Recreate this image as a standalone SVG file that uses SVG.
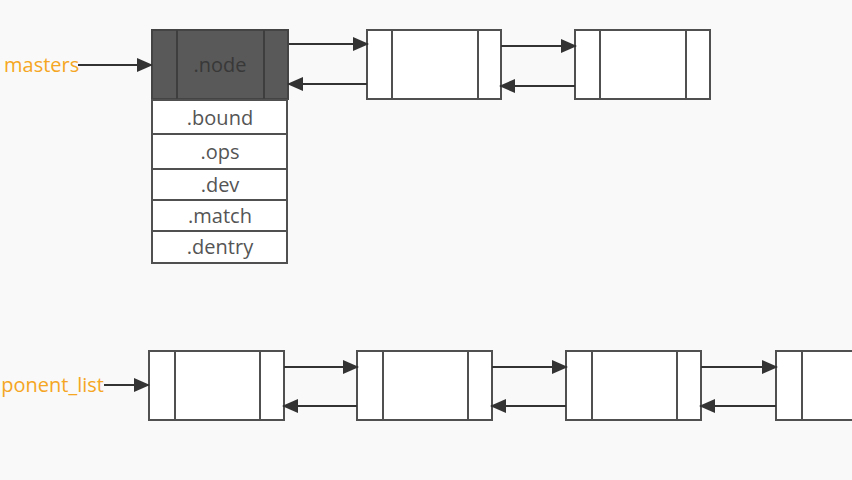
<svg xmlns="http://www.w3.org/2000/svg" width="852" height="480" viewBox="0 0 852 480">
<defs>
<marker id="ah" viewBox="0 0 16 14" refX="15" refY="7" markerWidth="16" markerHeight="14" markerUnits="userSpaceOnUse" orient="auto">
<path d="M0,0 L16,7 L0,14 z" fill="#333"/>
</marker>
<style>
.box{fill:#fff;stroke:#505050;stroke-width:2}
.dark{fill:#595959;stroke:#444;stroke-width:2}
.div{stroke:#505050;stroke-width:2}
.ddiv{stroke:#3e3e3e;stroke-width:2}
.con{stroke:#333;stroke-width:2;fill:none;marker-end:url(#ah)}
.fld{font-family:"Open Sans","Noto Sans",sans-serif;font-size:20px;fill:#555;text-anchor:middle}
.lbl{font-family:"Open Sans","Noto Sans",sans-serif;font-size:20px;fill:#f5a623}
</style>
</defs>
<rect width="852" height="480" fill="#f9f9f9"/>
<g id="masters">
<text class="lbl" x="4" y="72">masters</text>
</g>
<g id="component_list">
<text class="lbl" x="104" y="392" text-anchor="end">ponent_list</text>
</g>
<g id="master-node">
<rect class="dark" x="152" y="30" width="136" height="69"/>
<line class="ddiv" x1="177" y1="30" x2="177" y2="99"/>
<line class="ddiv" x1="264" y1="30" x2="264" y2="99"/>
<text class="fld" x="220" y="72" style="fill:#383838">.node</text>
<rect class="box" x="152" y="100" width="135" height="34"/>
<text class="fld" x="220" y="125">.bound</text>
<rect class="box" x="152" y="134" width="135" height="35"/>
<text class="fld" x="220" y="159">.ops</text>
<rect class="box" x="152" y="169" width="135" height="31"/>
<text class="fld" x="220" y="192">.dev</text>
<rect class="box" x="152" y="200" width="135" height="31"/>
<text class="fld" x="220" y="223">.match</text>
<rect class="box" x="152" y="231" width="135" height="32"/>
<text class="fld" x="220" y="254">.dentry</text>
</g>
<g id="m2">
<rect class="box" x="367" y="30" width="134" height="69"/>
<line class="div" x1="392" y1="30" x2="392" y2="99"/>
<line class="div" x1="478" y1="30" x2="478" y2="99"/>
</g>
<g id="m3">
<rect class="box" x="575" y="30" width="135" height="69"/>
<line class="div" x1="600" y1="30" x2="600" y2="99"/>
<line class="div" x1="686" y1="30" x2="686" y2="99"/>
</g>
<g id="c1">
<rect class="box" x="149" y="351" width="135" height="69"/>
<line class="div" x1="175" y1="351" x2="175" y2="420"/>
<line class="div" x1="260" y1="351" x2="260" y2="420"/>
</g>
<g id="c2">
<rect class="box" x="357" y="351" width="135" height="69"/>
<line class="div" x1="383" y1="351" x2="383" y2="420"/>
<line class="div" x1="468" y1="351" x2="468" y2="420"/>
</g>
<g id="c3">
<rect class="box" x="566" y="351" width="135" height="69"/>
<line class="div" x1="592" y1="351" x2="592" y2="420"/>
<line class="div" x1="677" y1="351" x2="677" y2="420"/>
</g>
<g id="c4">
<rect class="box" x="776" y="351" width="135" height="69"/>
<line class="div" x1="802" y1="351" x2="802" y2="420"/>
</g>
<g id="connectors">
<line class="con" x1="78" y1="65" x2="152" y2="65"/>
<line class="con" x1="289" y1="44" x2="368" y2="44"/>
<line class="con" x1="367" y1="84" x2="288" y2="84"/>
<line class="con" x1="501" y1="46" x2="576" y2="46"/>
<line class="con" x1="575" y1="86" x2="500" y2="86"/>
<line class="con" x1="104" y1="385" x2="149" y2="385"/>
<line class="con" x1="284" y1="367" x2="358" y2="367"/>
<line class="con" x1="357" y1="406" x2="283" y2="406"/>
<line class="con" x1="492" y1="367" x2="567" y2="367"/>
<line class="con" x1="566" y1="406" x2="491" y2="406"/>
<line class="con" x1="701" y1="367" x2="777" y2="367"/>
<line class="con" x1="776" y1="406" x2="700" y2="406"/>
</g>
</svg>
